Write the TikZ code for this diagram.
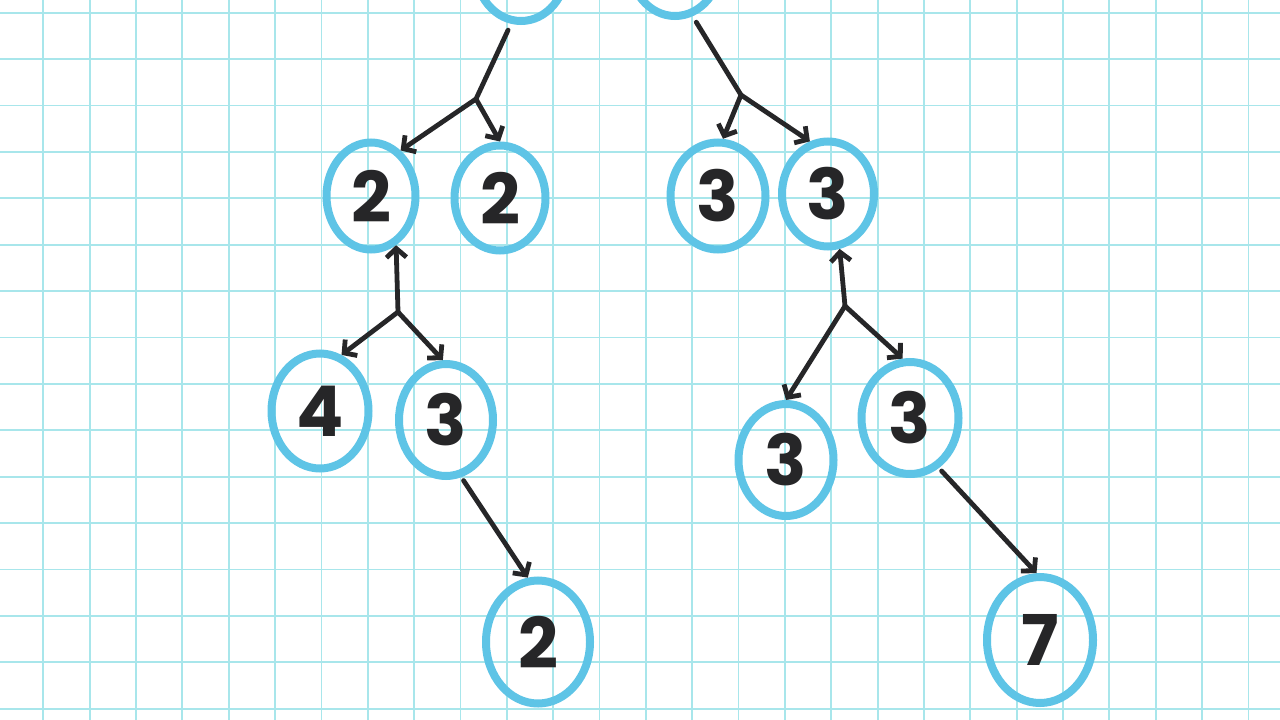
\documentclass[tikz,border=0pt]{standalone}
\usepackage{fontspec}
\setmainfont{Poppins}
\usetikzlibrary{shapes.geometric,arrows.meta}
\definecolor{gitter}{RGB}{168,230,235}
\definecolor{ring}{RGB}{94,196,230}
\definecolor{tinte}{RGB}{38,38,40}
\tikzset{
  knoten/.style={draw=ring, line width=8pt, ellipse, text=tinte, inner sep=0pt,
    font=\fontsize{70}{70}\selectfont\bfseries},
  linie/.style={draw=tinte, line width=4.8pt, line cap=round},
  pfeil/.style={linie, -{Straight Barb[length=9pt,width=20pt]}},
}
\begin{document}
\begin{tikzpicture}[x=1pt,y=-1pt]
            \useasboundingbox (0,0) rectangle (1280,720);
            \clip (0,0) rectangle (1280,720);
            \fill[white] (0,0) rectangle (1280,720);

            % Gitter
            \foreach \i in {0,...,26}
                \draw[gitter, line width=1.8pt] ({43.3+46.35*\i},0) -- ({43.3+46.35*\i},720);
            \foreach \j in {0,...,15}
                \draw[gitter, line width=1.8pt] (0,{12.7+46.4*\j}) -- (1280,{12.7+46.4*\j});

            % Knoten
            \node[knoten, minimum width=92pt, minimum height=108pt] (oben1) at (521,-33) {};
            \node[knoten, minimum width=92pt, minimum height=108pt] (oben2) at (675,-38) {};
            \node[knoten, minimum width=89pt, minimum height=107pt] (zweiA) at (371,196) {2};
            \node[knoten, minimum width=91pt, minimum height=105pt] (zweiB) at (500,198) {2};
            \node[knoten, minimum width=95pt, minimum height=107pt] (dreiA) at (718,196) {3};
            \node[knoten, minimum width=92pt, minimum height=105pt] (dreiB) at (828,194) {3};
            \node[knoten, minimum width=97pt, minimum height=115pt] (vier) at (320,411) {4};
            \node[knoten, minimum width=94pt, minimum height=112pt] (dreiC) at (446,420) {3};
            \node[knoten, minimum width=95pt, minimum height=112pt] (dreiD) at (786,460) {3};
            \node[knoten, minimum width=97pt, minimum height=112pt] (dreiE) at (910,418) {3};
            \node[knoten, minimum width=104pt, minimum height=123pt] (zweiC) at (538,642) {2};
            \node[knoten, minimum width=106pt, minimum height=126pt] (sieben) at (1040,640) {7};

            % Verzweigungen
            \coordinate (v1) at (476,99);
            \coordinate (v2) at (741,95);
            \coordinate (v3) at (398,312);
            \coordinate (v4) at (845,306);

            % Pfeile
            \draw[linie, shorten <=7pt] (oben1.260) -- (v1);
            \draw[pfeil] (v1) -- (zweiA.57);
            \draw[pfeil] (v1) -- (zweiB.90);

            \draw[linie, shorten <=7pt] (oben2.288) -- (v2);
            \draw[pfeil] (v2) -- (dreiA.85);
            \draw[pfeil] (v2) -- (dreiB.109);

            \draw[pfeil] (v3) -- (zweiA.-63);
            \draw[pfeil] (v3) -- (vier.69);
            \draw[pfeil] (v3) -- (dreiC.93);

            \draw[pfeil] (v4) -- (dreiB.-78);
            \draw[pfeil] (v4) -- (dreiD.90);
            \draw[pfeil] (v4) -- (dreiE.97);

            \draw[pfeil, shorten <=4pt] (dreiC.-75) -- (zweiC.99);
            \draw[pfeil, shorten <=4pt] (dreiE.-60) -- (sieben.93);
\end{tikzpicture}
\end{document}
